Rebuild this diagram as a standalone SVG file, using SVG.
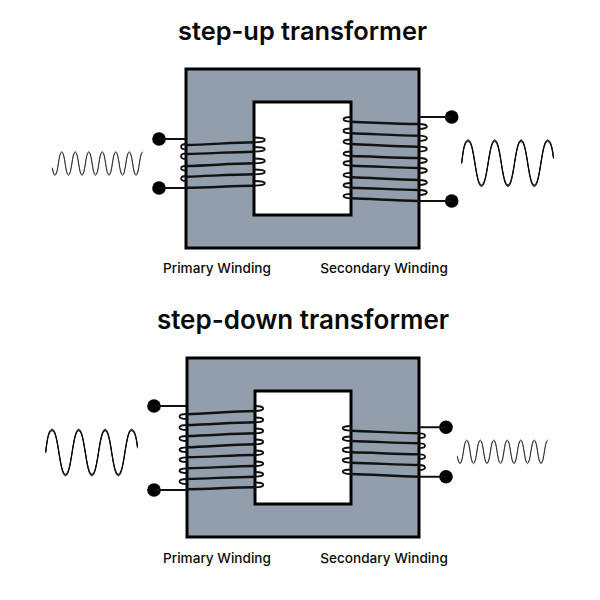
<svg xmlns="http://www.w3.org/2000/svg" width="600" height="600" viewBox="0 0 600 600">
<style>
.title{font-family:"Inter","Liberation Sans",sans-serif;font-weight:600;fill:#0a0a0a;text-anchor:middle}
.label{font-family:"Inter","Liberation Sans",sans-serif;font-weight:500;font-size:13.6px;fill:#0a0a0a;text-anchor:middle}
.core{fill:#929eac;stroke:#000;stroke-width:3}
.window{fill:#fff;stroke:#000;stroke-width:3}
.wire{fill:none;stroke:#111;stroke-width:2.4;stroke-linecap:round}
.lead{fill:none;stroke:#111;stroke-width:2}
.hook{fill:none;stroke:#111;stroke-width:1.8}
.dot{fill:#000}
.wave{fill:none;stroke:#000;stroke-width:.6}
</style>
<defs>
<path id="ws" d="M0,16 Q1.2,23 2.7,23 c3.2,0 3.55,-23 6.75,-23 s3.55,23 6.75,23 s3.55,-23 6.75,-23 s3.55,23 6.75,23 s3.55,-23 6.75,-23 s3.55,23 6.75,23 s3.55,-23 6.75,-23 s3.55,23 6.75,23 s3.55,-23 6.75,-23 s3.55,23 6.75,23 s3.55,-23 6.75,-23 s3.55,23 6.75,23 s3.55,-23 6.75,-23"/>
<path id="wl" d="M0,22.3 C1.6,8 3,0 6.6,0 c6,0 7.2,45 13.2,45 s7.200,-45 13.2,-45 s7.200,45 13.2,45 s7.200,-45 13.2,-45 s7.200,45 13.2,45 s7.200,-45 13.2,-45 c3.500,0 5,9 6,17.3"/>
<g id="small-wave" class="wave"><use href="#ws" y="-.4"/><use href="#ws" y=".4"/></g>
<g id="large-wave" class="wave"><use href="#wl" y="-1"/><use href="#wl" y="-.5"/><use href="#wl"/><use href="#wl" y=".5"/><use href="#wl" y="1"/></g>
</defs>
<rect width="600" height="600" fill="#fff"/>
<g id="step-up">
<text class="title" font-size="25.4" x="302.500" y="39.500">step-up transformer</text>
<g id="core-up"><rect class="core" x="186" y="69" width="233" height="179"/><rect class="window" x="254" y="102" width="97" height="113"/></g>
<g id="primary-up-terminals"><circle class="dot" cx="159" cy="139" r="6.800"/><circle class="dot" cx="159" cy="188" r="6.800"/></g>
<g id="secondary-up-terminals"><circle class="dot" cx="451.700" cy="117" r="6.800"/><circle class="dot" cx="451.700" cy="201" r="6.800"/></g>
<use id="wave-in-up" href="#small-wave" x="52.300" y="152"/>
<use id="wave-out-up" href="#large-wave" x="461.700" y="140.700"/>
<text class="label" x="217" y="272.500">Primary Winding</text>
<text class="label" x="384" y="272.500">Secondary Winding</text>
</g>
<g id="step-down">
<text class="title" font-size="26" x="303" y="328.500">step-down transformer</text>
<g id="core-down"><rect class="core" x="187" y="358" width="232" height="179"/><rect class="window" x="255" y="391" width="96" height="113"/></g>
<g id="primary-down-terminals"><circle class="dot" cx="154" cy="406" r="6.800"/><circle class="dot" cx="154" cy="490" r="6.800"/></g>
<g id="secondary-down-terminals"><circle class="dot" cx="446" cy="427.300" r="6.800"/><circle class="dot" cx="446" cy="476.700" r="6.800"/></g>
<use id="wave-in-down" href="#large-wave" x="45.700" y="430"/>
<use id="wave-out-down" href="#small-wave" x="457.300" y="440.300"/>
<text class="label" x="217" y="562.500">Primary Winding</text>
<text class="label" x="384" y="562.500">Secondary Winding</text>
</g>
<g id="connectors">
<path class="lead" d="M159,139H186M159,188H186M419,117H451M419,201H451M154,406H187M154,490H187M419,427.300H446M419,476.700H446"/>
<path class="wire" d="M186,145 C210,144.500 230,142.800 254,142.300M186,154 C210,153.500 230,152 254,151.700M186,166 C210,165.500 230,163.500 254,163.300M186,176.700 C210,176 230,174.500 254,174.300M186,187.700 C210,187.500 230,186 254,185.700"/>
<path class="hook" d="M186,144 C179.500,144 179.500,149.300 186,149.300M186,153.300 C179.500,153.300 179.500,159 186,159M186,166 C179.500,166 179.500,170.500 186,170.500M186,176 C179.500,176 179.500,181 186,181"/>
<path class="hook" d="M254,142.300 C268.500,142.300 268.500,137.500 254,137.500M254,151.700 C268.500,151.700 268.500,147 254,147M254,163.300 C268.500,163.300 268.500,158.500 254,158.500M254,174.300 C268.500,174.300 268.500,169.500 254,169.500M254,185.700 C268.500,185.700 268.500,181 254,181"/>
<path class="wire" d="M351,121.700 C375,122.500 395,124 419,124M351,133.300 C375,134 395,135.500 419,135.700M351,144 C375,145 395,146.500 419,146.700M351,156 C375,156.500 395,158 419,158M351,165.700 C375,166 395,167.800 419,168M351,177.300 C375,178 395,179.800 419,180M351,187.700 C375,188 395,189.800 419,190M351,198.300 C375,199 395,200.800 419,201"/>
<path class="hook" d="M351,117 C341,117 341,121.700 351,121.700M351,128.500 C341,128.500 341,133.300 351,133.300M351,139.500 C341,139.500 341,144 351,144M351,151.500 C341,151.500 341,156 351,156M351,161 C341,161 341,165.700 351,165.700M351,172.800 C341,172.800 341,177.300 351,177.300M351,183 C341,183 341,187.700 351,187.700M351,193.800 C341,193.800 341,198.300 351,198.300"/>
<path class="hook" d="M419,124 C429.500,124 429.500,129 419,129M419,135.700 C429.500,135.700 429.500,141 419,141M419,146.700 C429.500,146.700 429.500,151.500 419,151.500M419,158 C429.500,158 429.500,163 419,163M419,168 C429.500,168 429.500,173 419,173M419,180 C429.500,180 429.500,185 419,185M419,190 C429.500,190 429.500,195 419,195"/>
<path class="wire" d="M187,414.300 C210,413.500 232,411.300 255,411M187,425 C210,424.500 232,422.500 255,422.300M187,436 C210,435.500 232,433.500 255,433.300M187,447.300 C210,446.500 232,444.500 255,444.300M187,457.300 C210,457 232,455.200 255,455M187,468.300 C210,468 232,466.200 255,466M187,479 C210,478.500 232,477 255,476.700M187,489.300 C210,489 232,487.500 255,487.300"/>
<path class="hook" d="M187,414 C177,414 177,419 187,419M187,425 C177,425 177,430 187,430M187,436 C177,436 177,441 187,441M187,447.300 C177,447.300 177,452 187,452M187,457.300 C177,457.300 177,462 187,462M187,468.300 C177,468.300 177,473 187,473M187,479 C177,479 177,484 187,484"/>
<path class="hook" d="M255,411 C266,411 266,406 255,406M255,422.300 C266,422.300 266,417.500 255,417.500M255,433.300 C266,433.300 266,428.500 255,428.500M255,444.300 C266,444.300 266,439.500 255,439.500M255,455 C266,455 266,450.500 255,450.500M255,466 C266,466 266,461.500 255,461.500M255,476.700 C266,476.700 266,472 255,472M255,487.300 C266,487.300 266,482.500 255,482.500"/>
<path class="wire" d="M351,430.700 C375,431.500 395,433 419,433.300M351,441 C375,441.500 395,443 419,443.300M351,452.300 C375,452.800 395,454 419,454.300M351,462.700 C375,463 395,464.800 419,465M351,474 C375,474.500 395,476.500 419,476.700"/>
<path class="hook" d="M351,426 C340,426 340,430.700 351,430.700M351,436.500 C340,436.500 340,441 351,441M351,447.500 C340,447.500 340,452.300 351,452.300M351,458 C340,458 340,462.700 351,462.700M351,469.500 C340,469.500 340,474 351,474"/>
<path class="hook" d="M419,433.300 C427,433.300 427,438 419,438M419,443.300 C427,443.300 427,448 419,448M419,454.300 C427,454.300 427,459 419,459M419,465 C427,465 427,470 419,470"/>
</g>
</svg>
